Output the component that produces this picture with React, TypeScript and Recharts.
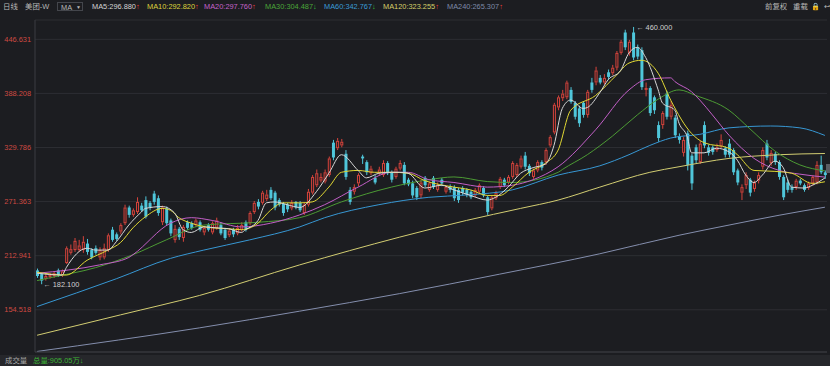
import { Bar, ComposedChart, CartesianGrid, Line, ReferenceDot, XAxis, YAxis } from 'recharts'

// [open, high, low, close]
const CANDLES: [number, number, number, number][] = [
  [197, 199, 189, 191], [193, 194, 182.1, 186], [188, 193, 186, 191], [190, 194, 188, 192], [191, 196, 189, 194],
  [197, 199, 190, 192], [192, 198, 190, 196], [205, 223, 204, 221], [216, 225, 214, 220], [219, 232, 217, 229],
  [219, 230, 217, 224], [219, 234, 216, 228], [226, 231, 214, 217], [219, 221, 209, 211], [221, 224, 214, 216],
  [211, 222, 208, 219], [211, 226, 209, 221], [219, 237, 217, 235], [241, 244, 228, 230], [236, 238, 229, 231],
  [239, 248, 236, 246], [248, 268, 246, 265], [265, 267, 254, 257], [257, 264, 255, 262], [260, 276, 258, 271],
  [267, 270, 260, 262], [273, 277, 253, 255], [270, 272, 262, 265], [280, 283, 268, 271], [275, 278, 256, 259],
  [249, 267, 246, 265], [264, 266, 246, 248], [251, 253, 234, 237], [230, 246, 227, 242], [242, 244, 230, 233],
  [232, 246, 228, 244], [249, 251, 241, 243], [248, 250, 241, 243], [246, 253, 244, 251], [249, 251, 239, 241],
  [238, 245, 235, 243], [246, 248, 239, 241], [238, 250, 236, 248], [243, 254, 241, 251], [246, 249, 235, 237],
  [241, 243, 230, 232], [235, 242, 233, 240], [241, 243, 233, 236], [237, 246, 235, 243], [241, 249, 239, 246],
  [249, 251, 239, 241], [248, 261, 246, 259], [260, 272, 258, 270], [271, 274, 263, 266], [270, 283, 268, 281],
  [274, 284, 272, 279], [284, 287, 273, 275], [281, 283, 262, 265], [273, 275, 266, 268], [269, 271, 256, 259],
  [268, 270, 260, 263], [264, 273, 262, 270], [271, 272, 263, 265], [270, 272, 260, 262], [259, 270, 257, 268],
  [268, 285, 266, 282], [281, 300, 279, 298], [289, 306, 287, 302], [294, 302, 292, 298], [293, 306, 291, 303],
  [300, 320, 298, 318], [335, 338, 316, 319], [329, 340, 327, 337], [332, 339, 330, 336], [323, 327, 295, 298],
  [284, 287, 268, 271], [282, 290, 279, 287], [291, 302, 288, 300], [320, 322, 312, 318], [314, 316, 300, 303],
  [302, 310, 300, 307], [297, 300, 290, 292], [302, 309, 300, 306], [300, 316, 298, 313], [313, 315, 300, 302],
  [303, 305, 292, 295], [298, 309, 296, 307], [307, 316, 305, 313], [311, 314, 289, 291], [295, 297, 288, 290],
  [291, 294, 275, 278], [286, 288, 273, 276], [278, 295, 275, 292], [297, 299, 287, 289], [284, 293, 282, 291],
  [297, 299, 285, 287], [284, 292, 282, 289], [295, 297, 288, 291], [282, 289, 280, 287], [288, 290, 281, 284],
  [287, 289, 272, 275], [284, 286, 270, 273], [286, 288, 278, 281], [284, 286, 276, 279], [282, 284, 274, 276],
  [278, 286, 276, 284], [282, 291, 280, 289], [286, 288, 276, 278], [276, 278, 257, 260], [264, 278, 262, 276],
  [275, 283, 273, 281], [287, 298, 285, 296], [295, 297, 287, 289], [292, 300, 290, 298], [298, 315, 296, 313],
  [300, 313, 298, 311], [309, 321, 307, 318], [321, 325, 306, 309], [310, 312, 299, 302], [298, 307, 296, 305],
  [305, 316, 303, 314], [314, 316, 305, 308], [314, 329, 311, 327], [332, 343, 330, 341], [346, 378, 344, 376],
  [373, 386, 370, 384], [383, 392, 380, 388], [384, 402, 382, 400], [392, 395, 377, 379], [378, 380, 360, 363],
  [372, 375, 352, 356], [378, 380, 362, 365], [365, 392, 362, 390], [400, 405, 389, 392], [400, 417, 397, 413],
  [405, 408, 398, 400], [400, 409, 398, 405], [411, 414, 403, 406], [410, 419, 408, 416], [416, 434, 413, 432],
  [432, 446, 430, 444], [454, 457, 435, 438], [432, 446, 429, 444], [454, 460, 424, 427], [438, 441, 425, 428],
  [435, 438, 392, 395], [392, 400, 385, 394], [394, 396, 364, 367], [384, 386, 366, 370], [354, 358, 336, 340],
  [354, 369, 350, 367], [388, 391, 360, 363], [363, 380, 360, 376], [362, 365, 340, 343], [342, 345, 334, 338],
  [324, 341, 320, 338], [345, 348, 305, 311], [321, 323, 284, 291], [330, 333, 313, 316], [314, 337, 312, 334],
  [354, 358, 329, 332], [330, 333, 321, 324], [330, 332, 322, 325], [327, 334, 325, 330], [331, 344, 329, 338],
  [329, 331, 319, 322], [334, 339, 319, 322], [327, 329, 300, 303], [305, 307, 289, 292], [281, 290, 273, 287],
  [289, 303, 285, 300], [295, 297, 277, 281], [285, 294, 282, 292], [294, 303, 291, 300], [309, 330, 306, 327],
  [334, 338, 316, 319], [313, 327, 310, 324], [323, 325, 311, 314], [314, 316, 295, 298], [298, 300, 273, 276],
  [292, 295, 281, 284], [287, 290, 281, 284], [287, 296, 284, 294], [294, 296, 289, 291], [289, 291, 282, 284],
  [286, 293, 284, 291], [291, 300, 289, 298], [292, 315, 290, 311], [311, 321, 301, 303], [303, 305, 296, 300],
]

// moving averages: [candle index, value]
const MA5: [number, number][] = [
  [0, 194], [6, 192], [7, 200], [12, 221], [14, 219], [17, 219], [19, 228], [22, 246], [25, 260], [26, 264],
  [30, 266], [33, 259], [35, 241], [37, 238], [40, 244], [43, 243], [46, 242], [49, 238], [50, 241], [53, 251],
  [55, 270], [57, 271], [60, 268], [63, 265], [67, 282], [70, 302], [73, 322], [77, 305], [79, 297], [82, 302],
  [85, 303], [87, 303], [89, 302], [93, 286], [97, 289], [100, 284], [104, 278], [108, 273], [110, 276], [113, 287],
  [116, 302], [119, 308], [122, 312], [124, 332], [126, 372], [128, 381], [131, 372], [132, 373], [135, 389],
  [137, 403], [140, 413], [142, 432], [144, 438], [146, 427], [149, 392], [150, 378], [153, 370], [154, 356],
  [156, 341], [157, 324], [160, 324], [163, 329], [166, 325], [168, 316], [170, 300], [172, 292], [174, 300],
  [177, 315], [179, 308], [181, 287], [184, 286], [186, 289], [189, 296.9],
]
const MA10: [number, number][] = [
  [0, 195], [7, 192], [12, 208], [17, 219], [20, 227], [23, 243], [26, 255], [30, 264], [32, 262], [34, 254],
  [37, 248], [42, 243], [46, 242], [49, 241], [53, 248], [56, 262], [59, 270], [63, 270], [66, 271], [70, 287],
  [73, 303], [77, 305], [81, 303], [85, 303], [89, 302], [93, 294], [100, 287], [104, 284], [108, 278], [111, 278],
  [114, 287], [118, 303], [122, 313], [125, 327], [128, 370], [134, 386], [139, 408], [142, 421], [145, 424],
  [149, 410], [152, 381], [157, 345], [160, 335], [166, 329], [168, 322], [172, 305], [177, 304], [181, 302],
  [186, 291], [189, 292.8],
]
const MA20: [number, number][] = [
  [0, 194], [15, 203], [22, 211], [23, 214], [32, 248], [37, 254], [42, 251], [49, 244], [56, 248], [63, 257],
  [69, 268], [77, 287], [85, 303], [89, 303], [94, 295], [100, 292], [108, 287], [114, 289], [119, 295], [125, 309],
  [134, 349], [142, 392], [146, 403], [152, 405], [153, 401], [157, 390], [159, 381], [162, 365], [166, 343],
  [172, 318], [178, 305], [183, 301], [189, 297.8],
]
const MA30: [number, number][] = [
  [0, 186], [3, 189], [14, 200], [23, 214], [31, 230], [40, 246], [53, 249], [63, 254], [73, 271], [85, 287],
  [94, 295], [100, 298], [108, 293], [114, 292], [125, 303], [126, 306], [132, 322], [138, 342], [144, 365],
  [149, 382], [154, 392], [158, 386], [166, 370], [171, 350], [177, 326], [183, 311], [189, 304.5],
]
const MA60: [number, number][] = [
  [0, 158], [19, 188], [32, 210], [40, 219], [51, 230], [63, 244], [69, 254], [82, 268], [94, 276], [103, 278.5],
  [114, 284], [125, 300], [135, 310], [142, 322], [147, 332], [152, 340], [159, 344], [166, 351], [176, 353],
  [183, 351], [189, 342.8],
]
const MA120: [number, number][] = [
  [0, 127], [20, 149], [39, 170], [63, 203], [87, 233], [103, 251], [116, 264], [125, 273], [135, 287],
  [147, 303], [154, 309], [166, 318], [178, 322], [189, 323.3],
]
const MA240: [number, number][] = [
  [0, 109.5], [39, 135], [63, 153], [87, 172], [111, 193], [135, 215], [154, 235], [166, 246], [178, 256.6],
  [189, 265.3],
]

const Y_TICKS = [154.518, 212.941, 271.363, 329.786, 388.208, 446.631]
const Y_DOMAIN: [number, number] = [108.9, 467.5]
const HIGH_MARK = { idx: 143, value: 460, text: '← 460.000' }
const LOW_MARK = { idx: 1, value: 182.1, text: '← 182.100' }

const LEGEND = [
  { name: 'MA5', value: '296.880', up: true, color: '#d4d4d4', left: 92 },
  { name: 'MA10', value: '292.820', up: true, color: '#dcd23c', left: 147 },
  { name: 'MA20', value: '297.760', up: true, color: '#c462c9', left: 204 },
  { name: 'MA30', value: '304.487', up: false, color: '#4aa638', left: 265 },
  { name: 'MA60', value: '342.767', up: false, color: '#3a9bd6', left: 324 },
  { name: 'MA120', value: '323.255', up: true, color: '#d6cf6a', left: 383 },
  { name: 'MA240', value: '265.307', up: true, color: '#7e8aa8', left: 447 },
]

const MA_LINES = [
  { key: 'ma240', pts: MA240, color: '#848ead' },
  { key: 'ma120', pts: MA120, color: '#d2cd72' },
  { key: 'ma60', pts: MA60, color: '#3797d3' },
  { key: 'ma30', pts: MA30, color: '#4c9a34' },
  { key: 'ma20', pts: MA20, color: '#c25fc7' },
  { key: 'ma10', pts: MA10, color: '#e2d934' },
  { key: 'ma5', pts: MA5, color: '#d8d8d8' },
]

const BG = '#1c1d21'
const UP = '#d8443c'
const DOWN = '#4fc6da'

const pick = (pts: [number, number][], i: number) => {
  const hit = pts.find((p) => p[0] === i)
  return hit ? hit[1] : null
}

const data = CANDLES.map(([o, h, l, c], i) => {
  const row: Record<string, unknown> = { i, o, h, l, c, range: [l, h] }
  MA_LINES.forEach((m) => {
    row[m.key] = pick(m.pts, i)
  })
  return row
})

function Candle(props: any) {
  const { x, y, width, height, payload } = props
  const { o, h, l, c } = payload
  const up = c >= o
  const k = height / Math.max(h - l, 0.0001)
  const top = y + (h - Math.max(o, c)) * k
  const bot = y + (h - Math.min(o, c)) * k
  const cx = x + width / 2
  const color = up ? UP : DOWN
  const bodyH = Math.max(bot - top, 1)
  if (up) {
    return (
      <g>
        <line x1={cx} x2={cx} y1={y} y2={top} stroke={color} strokeWidth={1} />
        <line x1={cx} x2={cx} y1={top + bodyH} y2={y + height} stroke={color} strokeWidth={1} />
        <rect x={x + 0.5} y={top + 0.5} width={width - 1} height={Math.max(bodyH - 1, 0.5)} fill={BG} stroke={color} strokeWidth={1} />
      </g>
    )
  }
  return (
    <g>
      <line x1={cx} x2={cx} y1={y} y2={y + height} stroke={color} strokeWidth={1} />
      <rect x={x} y={top} width={width} height={bodyH} fill={color} />
    </g>
  )
}

const font = '"Liberation Sans", Arial, "DejaVu Sans", "Noto Sans CJK SC", sans-serif'

export default function App() {
  return (
    <div style={{ position: 'relative', width: 830, height: 366, background: BG, fontFamily: font, overflow: 'hidden' }}>
      <style>{'body{margin:0;background:#1c1d21}'}</style>
      <div style={{ position: 'absolute', top: 0, left: 0, width: 830, height: 13, fontSize: 7.4, lineHeight: '13px', color: '#b8b8b8' }}>
        <span style={{ position: 'absolute', left: 3 }}>日线</span>
        <span style={{ position: 'absolute', left: 25 }}>美团-W</span>
        <span style={{ position: 'absolute', left: 57, top: 2, width: 26, height: 9, border: '1px solid #44464c', lineHeight: '9px', boxSizing: 'border-box' }}>
          <span style={{ position: 'absolute', left: 3 }}>MA</span>
          <span style={{ position: 'absolute', left: 18, fontSize: 5 }}>▼</span>
        </span>
        {LEGEND.map((m) => (
          <span key={m.name} style={{ position: 'absolute', left: m.left, color: m.color }}>
            {m.name}:{m.value}
            <span style={{ color: m.up ? '#e53b35' : '#33c03a' }}>{m.up ? '↑' : '↓'}</span>
          </span>
        ))}
        <span style={{ position: 'absolute', left: 765 }}>前复权</span>
        <span style={{ position: 'absolute', left: 793 }}>重载</span>
        <span style={{ position: 'absolute', left: 811 }}>🔒</span>
        <span style={{ position: 'absolute', left: 824 }}>↩</span>
      </div>
      <div style={{ position: 'absolute', top: 0, left: 0 }}>
        <ComposedChart width={830} height={356} data={data} margin={{ top: 20, right: 3, bottom: 3, left: 0 }} barCategoryGap={0} barSize={3}>
          <CartesianGrid horizontal vertical={false} stroke="#2d2e33" />
          <XAxis dataKey="i" type="category" tick={false} tickLine={false} axisLine={{ stroke: '#3a3c42' }} height={1} />
          <YAxis
            domain={Y_DOMAIN}
            ticks={Y_TICKS}
            type="number"
            allowDataOverflow
            width={35}
            tickSize={0}
            tickMargin={4}
            axisLine={{ stroke: '#3a3c42' }}
            tickLine={false}
            tick={{ fill: '#cf4a42', fontSize: 7.4 }}
            tickFormatter={(v) => Number(v).toFixed(3)}
          />
          {MA_LINES.slice(0, 3).map((m) => (
            <Line key={m.key} dataKey={m.key} type="monotone" stroke={m.color} strokeWidth={1} dot={false} connectNulls isAnimationActive={false} />
          ))}
          <Bar dataKey="range" shape={Candle} isAnimationActive={false} />
          {MA_LINES.slice(3).map((m) => (
            <Line key={m.key} dataKey={m.key} type="monotone" stroke={m.color} strokeWidth={1} dot={false} connectNulls isAnimationActive={false} />
          ))}
          <ReferenceDot x={HIGH_MARK.idx} y={HIGH_MARK.value} r={0} label={{ value: HIGH_MARK.text, position: 'right', offset: 3, fill: '#cfcfcf', fontSize: 7.4 }} />
          <ReferenceDot x={LOW_MARK.idx} y={LOW_MARK.value} r={0} label={{ value: LOW_MARK.text, position: 'right', offset: 2, fill: '#cfcfcf', fontSize: 7.4 }} />
        </ComposedChart>
      </div>
      <div style={{ position: 'absolute', left: 826, top: 164, width: 6, height: 9, background: '#5a5c62' }} />
      <div style={{ position: 'absolute', top: 355, left: 0, width: 830, height: 11, background: '#26272b', fontSize: 7.4, lineHeight: '11px' }}>
        <span style={{ position: 'absolute', left: 5, color: '#a8a8a8' }}>成交量</span>
        <span style={{ position: 'absolute', left: 33, color: '#3cb334' }}>总量:905.05万↓</span>
      </div>
    </div>
  )
}
